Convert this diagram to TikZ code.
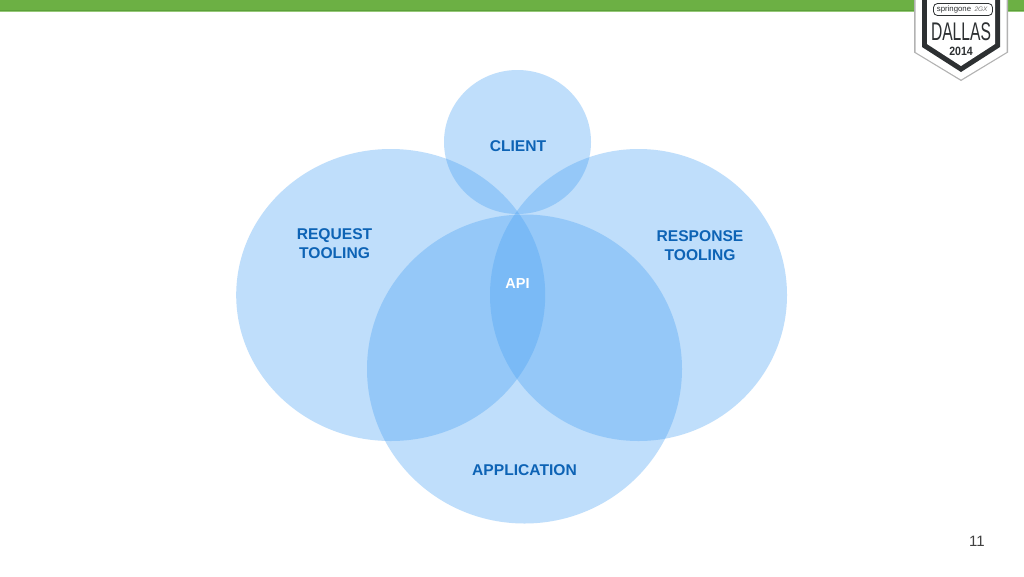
\documentclass[tikz,border=0pt]{standalone}
\usepackage{fontspec}
\usetikzlibrary{shapes.geometric}
\setmainfont{Liberation Sans}
\definecolor{venn}{RGB}{72,161,244}
\definecolor{lab}{RGB}{13,99,181}
\definecolor{barg}{RGB}{108,176,68}
\definecolor{bardark}{RGB}{92,160,58}
\definecolor{barlight}{RGB}{150,200,120}
\definecolor{badgeink}{RGB}{45,48,50}
\tikzset{
  vennc/.style 2 args={ellipse,fill=venn,fill opacity=.35,draw=none,inner sep=0pt,minimum width=#1,minimum height=#2},
  vlabel/.style={text=lab,font=\fontsize{15.6}{19}\selectfont\bfseries,align=center,inner sep=0pt},
  apilabel/.style={text=white,font=\fontsize{14.5}{18}\selectfont\bfseries,inner sep=0pt},
  badgetext/.style={text=badgeink,inner sep=0pt},
}
\begin{document}
\begin{tikzpicture}[x=1pt,y=-1pt]
\useasboundingbox (0,0) rectangle (1024,576);
\fill[white] (0,0) rectangle (1024,576);
% top bar
\fill[barg] (0,0) rectangle (1024,11);
\fill[bardark] (0,9.5) rectangle (1024,11);
\fill[barlight] (0,11) rectangle (1024,12);
% circles
\node[vennc={309pt}{292pt}] (req) at (390.7,295) {};
\node[vennc={297pt}{292pt}] (resp) at (638.5,295) {};
\node[vennc={315pt}{309pt}] (app) at (524.5,369) {};
\node[vennc={147pt}{144pt}] (cli) at (517.5,142) {};
% labels
\node[vlabel] (tcli) at (518,146) {CLIENT};
\node[vlabel] (treq) at (334.5,243.5) {REQUEST\\TOOLING};
\node[vlabel] (tresp) at (700,246) {RESPONSE\\TOOLING};
\node[apilabel] (tapi) at (517.5,283.5) {API};
\node[vlabel] (tapp) at (524.5,470) {APPLICATION};
\node[text=black!75,font=\fontsize{15}{18}\selectfont,inner sep=0pt] (pg) at (977,541) {11};
% badge
\fill[black!30] (914,0) -- (914,52.5) -- (961,81) -- (1008,52.5) -- (1008,0) -- cycle;
\fill[white] (915.5,0) -- (915.5,52) -- (961,79.5) -- (1006.5,52) -- (1006.5,0) -- cycle;
\fill[badgeink] (922,0) -- (922,47) -- (961,72) -- (1000,47) -- (1000,0) -- cycle;
\fill[white] (927,0) -- (927,44) -- (961,66) -- (995,44) -- (995,0) -- cycle;
\node[draw=badgeink,line width=.8pt,rounded corners=4pt,minimum width=59pt,minimum height=12pt,inner sep=0pt,fill=white] (pill) at (963,9.5) {};
\node[badgetext,font=\fontsize{7.8}{8}\selectfont] (sp) at (954,9.5) {springone};
\node[font=\fontsize{6.5}{6}\selectfont\itshape,text=black!55,inner sep=0pt] (s2) at (981,9.5) {2GX};
\node[badgetext,font=\fontsize{17}{20}\selectfont,xscale=.92,yscale=1.5] (dal) at (961,32) {DALLAS};
\node[badgetext,font=\fontsize{12}{12}\selectfont\bfseries,xscale=.88] (yr) at (961,51) {2014};
\end{tikzpicture}
\end{document}
